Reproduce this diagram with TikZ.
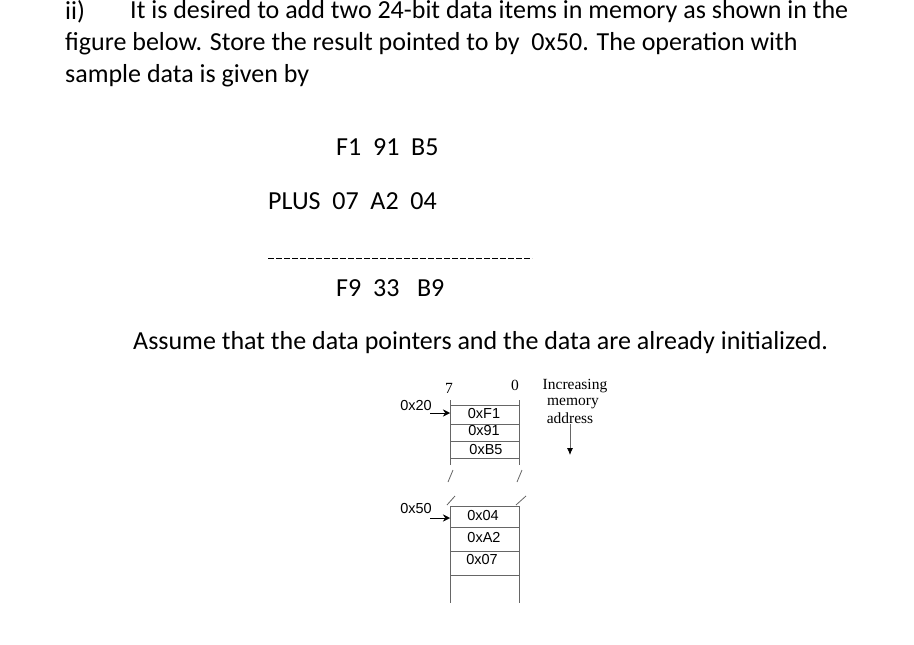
\documentclass[tikz,border=0pt]{standalone}
\usepackage{fontspec}
\usetikzlibrary{arrows.meta}
\setmainfont{Carlito}
\newfontfamily\arl{Liberation Sans}
\newfontfamily\tms{Liberation Serif}
\begin{document}
\begin{tikzpicture}[x=1pt,y=-1pt,
 big/.style={anchor=west,inner sep=0,font=\fontsize{26}{28}\selectfont},
 lab/.style={inner sep=0,font=\arl\fontsize{14.5}{16}\selectfont},
 ser/.style={inner sep=0,font=\tms\fontsize{15.5}{15}\selectfont},
 mem/.style={gray!80!black,line width=0.8pt}]
\useasboundingbox (0,0) rectangle (914,645);
\node[big] (t1) at (65,12) {ii)};
\node[big] (t1b) at (130,12) {It is desired to add two 24-bit data items in memory as shown in the};
\node[big] (t2) at (65,44) {figure below. Store the result pointed to by\ \ 0x50. The operation with};
\node[big] (t3) at (65,76) {sample data is given by};
\node[big] (a) at (336,147) {F1\ \ 91\ \ B5};
\node[big] (b) at (268,201) {PLUS\ \ 07\ \ A2\ \ 04};
\draw[dash pattern=on 6pt off 2pt,line width=0.9pt] (268,258) -- (532,258);
\node[big] (c) at (336,288) {F9\ \ 33\ \ \ B9};
\node[big] (d) at (133,343) {Assume that the data pointers and the data are already initialized.};
\draw[mem] (450,400) -- (450,465) (519,400) -- (519,465);
\foreach \y in {405,424,441,458} \draw[mem,line width=0.6pt] (450,\y) -- (519,\y);
\draw[mem] (448,482) -- (453,470) (517,482) -- (522,470);
\draw[mem] (447,505) -- (455,496) (516,505) -- (526,496);
\draw[mem] (450,506) -- (450,603) (519,506) -- (519,603);
\foreach \y in {506,527,551,575} \draw[mem,line width=0.6pt] (450,\y) -- (519,\y);
\node[lab] (m1) at (484,414) {0xF1};
\node[lab] (m2) at (484,431) {0x91};
\node[lab] (m3) at (486,450) {0xB5};
\node[lab] (n1) at (483,516) {0x04};
\node[lab] (n2) at (484,538) {0xA2};
\node[lab] (n3) at (482,560) {0x07};
\node[ser] (b7) at (449,388) {7};
\node[ser] (b0) at (515,385) {0};
\node[ser] (i1) at (575,386) {Increasing};
\node[ser] (i2) at (573,404) {memory};
\node[ser] (i3) at (570,418) {address};
\draw[mem,-{Latex[black,length=7pt,width=6pt]}] (570,424) -- (570,455);
\node[lab] (p1) at (416,406) {0x20};
\node[lab] (p2) at (416,509) {0x50};
\coordinate (q1) at (430,413);
\coordinate (q2) at (430,518);
\draw[-{Stealth[length=7pt,width=7pt]}] (q1) -- (450,413);
\draw[-{Stealth[length=7pt,width=7pt]}] (q2) -- (450,518);
\end{tikzpicture}
\end{document}
